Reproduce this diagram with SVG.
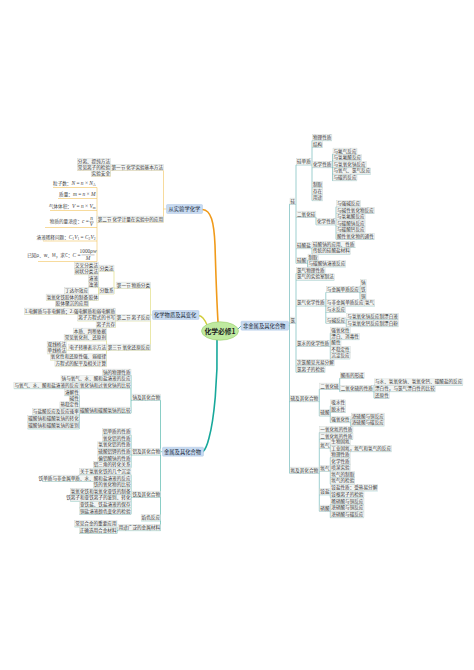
<svg xmlns="http://www.w3.org/2000/svg" width="474" height="670" viewBox="0 0 474 670">
<style>
.t{font-family:"Noto Sans CJK SC","Noto Sans",sans-serif;font-size:4.6px;fill:#333}
.e{text-anchor:end}
.b{fill:#f3f5f4;stroke:#c6cfcb;stroke-width:0.35}
.mb{fill:#c7daf1;stroke:#a5bfe0;stroke-width:0.4}
.mt{font-family:"Noto Sans CJK SC","Noto Sans",sans-serif;font-size:5.3px;fill:#1d2a3a}
.fm{font-family:"Liberation Serif",serif;font-size:5.4px;fill:#444}
.cn{font-family:"Noto Sans CJK SC","Noto Sans",sans-serif;font-size:4.6px}
.it{font-style:italic}
.sb{font-size:3.6px}
.k{fill:none;stroke-width:0.6}
.c1{stroke:#f2c35a}.c2{stroke:#dcd86e}.c3{stroke:#3aad9f}.c4{stroke:#5aaeb0}
</style>
<rect width="474" height="670" fill="#fff"/>
<g id="connectors">
<path class="k c1" d="M163.5,209H166.5M163.5,170.5V222.2M110.5,170.5H163.5M77.3,164.9H110.5M77.3,170.5H110.5M91.1,176.2H110.5M110.5,164.9V176.2M97,222.2H163.5M53,187.5H97M58,198.5H97M50,210.5H97M45,227.5H97M43,241H97M38,261.5H97M97,187.5V261.5"/>
<path class="k c2" d="M150.5,315H152.5M150.5,288.2V350.2M114,288.2H150.5M98.5,271.2H114M98.5,293.9H114M114,271.2V293.9M74.5,268.2H98.5M74.5,274.6H98.5M98.5,268.2V274.6M88.3,281.2H98.5M88.3,287.6H98.5M88.5,300.2H98.5M98.5,281.2V300.2M64.5,293.9H88.5M46.1,300.2H88.5M55.3,306.6H88.5M88.5,293.9V306.6M115.5,320.9H150.5M24.3,314.2H115.5M77.7,320.9H115.5M96.1,327.4H115.5M115.5,314.2V327.4M106.5,350.2H150.5M73.3,334.2H106.5M64.1,340.8H106.5M66.5,350.2H106.5M50.3,360H106.5M54.9,366.6H106.5M106.5,334.2V366.6M47.1,347.4H66.5M47.1,353.8H66.5M66.5,347.4V353.8"/>
<path class="k c3" d="M160.5,451.7H162.5M160.5,400.2V530.6M131,400.2H160.5M102.4,375.2H131M61,381.9H131M79.3,388.6H131M79.3,413.2H131M131,375.2V413.2M13.9,388.6H79.3M64.5,395.6H79.3M69.1,401.8H79.3M59.9,408H79.3M32.3,414.8H79.3M27.7,421.8H79.3M27.7,428.8H79.3M79.3,395.6V428.8M131,454.9H160.5M102.4,434.8H131M102.4,441.4H131M97.8,448H131M97.8,454.6H131M97.8,461.2H131M93.2,467.8H131M131,434.8V467.8M131,497.2H160.5M79.4,474.6H131M42.6,481.2H131M93.2,487.8H131M70.2,494.4H131M70.2,501H131M79.4,507.6H131M79.4,514.2H131M131,474.6V514.2M141.1,520.8H160.5M117,530.6H160.5M74.6,526.8H117M79.2,533.4H117M117,526.8V533.4"/>
<path class="k c4" d="M288.5,325.7H289.5M289.5,204.2V473.2M289.5,204.2H296M296,164.9V263.4M296,164.9H312M312,140.6V200.6M312,140.6H331.9M312,147.1H322.7M312,167.6H332.5M312,187.6H322.7M312,194.1H322.7M312,200.6H322.7M332.5,154.2V180.6M332.5,154.2H357M332.5,160.8H361.6M332.5,167.4H366.2M332.5,174H370.8M332.5,180.6H357M296,217.2H316M316,217.2V224.8M316,224.8H336M336,206.8V239.3M336,206.8H360.5M336,213.3H374.3M336,219.8H365.1M336,226.3H365.1M336,232.8H365.1M336,239.3H374.3M296,248.6H312M312,247.4V254M312,247.4H355.4M312,254H350.3M296,263.4H307.5M307.5,260.2V266.8M307.5,260.2H318.2M307.5,266.8H345.8M289.5,323.2H296M296,273.4V372.4M296,273.4H325.1M296,280H334.3M296,305.9H325.8M325.8,292.5V323.2M325.8,292.5H360M360,285.9V299.1M360,285.9H366.1M360,292.5H366.1M360,299.1H366.1M325.8,305.9H375M325.8,312.5H345.7M325.8,323.2H346.3M346.3,319.3V326.6M346.3,319.3H398.4M346.3,326.6H398.4M296,346.5H330.3M330.3,333.2V358.8M330.3,333.2H350.2M330.3,339.6H359.4M330.3,346H341M330.3,352.4H350.2M330.3,358.8H350.2M296,365.6H334.3M296,372.4H325.1M289.5,401.6H319.3M319.3,389.2V415.9M319.3,389.2H339.7M339.7,378.4V391.6M339.7,378.4H364.2M339.7,391.6H374M374,385V398.2M374,385H462.9M374,391.6H435.3M374,398.2H389.3M319.3,415.9H330.3M330.3,406V422.6M330.3,406H345.6M330.3,412.5H345.6M330.3,422.6H350.7M350.7,419.2V425.8M350.7,419.2H384.4M350.7,425.8H384.4M289.5,473.2H319.3M319.3,432.6V511.2M319.3,432.6H353M319.3,439.2H353M319.3,448.2H330.3M330.3,445V451.6M330.3,445H350.2M330.3,451.6H391.6M319.3,471.4H330.3M330.3,457.6V484M330.3,457.6H350.2M330.3,464.2H350.2M330.3,470.8H350.2M330.3,477.4H354.8M330.3,484H354.8M319.3,494.8H330.3M330.3,490.8V497.4M330.3,490.8H377.8M330.3,497.4H364M319.3,511.2H330.3M330.3,504.4V517.6M330.3,504.4H364M330.3,511H364M330.3,517.6H364"/>
<path fill="none" stroke="#f09a1a" stroke-width="1.6" stroke-linecap="round" d="M202.5,209.5C211,210 214,222 215,245C216,280 217,305 218,322"/>
<path fill="none" stroke="#d2cd3c" stroke-width="1.4" stroke-linecap="round" d="M198.5,315.5C203,316 205,320 207,325"/>
<path fill="none" stroke="#17a89b" stroke-width="1.6" stroke-linecap="round" d="M217,340C218,380 214,420 209,438C207,446 205,450 203,451.7"/>
<path fill="none" stroke="#4a9ea8" stroke-width="0.9" d="M238,329L241,326"/>
</g>
<g id="center"><ellipse cx="220" cy="331" rx="18.5" ry="9.2" fill="#bfeaa0" stroke="#98cd6a" stroke-width="0.6"/><text x="220" y="333.5" text-anchor="middle" font-family="Noto Sans CJK SC,Noto Sans,sans-serif" font-size="6.8" font-weight="bold" fill="#222">化学必修1</text></g>
<g id="m1"><rect class="mb" x="166.5" y="204.5" width="36" height="9" rx="1"/><text class="mt" x="168.5" y="211">从实验学化学</text></g>
<g id="m2"><rect class="mb" x="152.5" y="310.5" width="46.5" height="9" rx="1"/><text class="mt" x="154" y="317">化学物质及其变化</text></g>
<g id="m3"><rect class="mb" x="162.5" y="447.2" width="41" height="9" rx="1"/><text class="mt" x="164" y="453.7">金属及其化合物</text></g>
<g id="m4"><rect class="mb" x="241" y="321.2" width="47.5" height="9" rx="1"/><text class="mt" x="243" y="327.7">非金属及其化合物</text></g>
<g id="b1s1"><rect class="b" x="110.7" y="164.4" width="52.8" height="6.1"/><text class="t e" x="163" y="168.9">第一节 化学实验基本方法</text></g>
<g id="b1s1a"><rect class="b" x="77.3" y="158.8" width="33.2" height="6.1"/><text class="t e" x="110" y="163.3">分离、提纯方法</text></g>
<g id="b1s1b"><rect class="b" x="77.3" y="164.4" width="33.2" height="6.1"/><text class="t e" x="110" y="168.9">常见离子的检验</text></g>
<g id="b1s1c"><rect class="b" x="91.1" y="170.1" width="19.4" height="6.1"/><text class="t e" x="110" y="174.6">实验安全</text></g>
<g id="b1s2"><rect class="b" x="96.9" y="216.1" width="66.6" height="6.1"/><text class="t e" x="163" y="220.6">第二节 化学计量在实验中的应用</text></g>
<g id="f1"><text class="fm e" x="95.5" y="185.2"><tspan class="cn">粒子数：</tspan><tspan class="it">N</tspan> = <tspan class="it">n</tspan> × <tspan class="it">N</tspan><tspan class="sb" dy="1">A</tspan></text></g>
<g id="f2"><text class="fm e" x="95.5" y="196.2"><tspan class="cn">质量：</tspan><tspan class="it">m</tspan> = <tspan class="it">n</tspan> × <tspan class="it">M</tspan></text></g>
<g id="f3"><text class="fm e" x="95.5" y="208.2"><tspan class="cn">气体体积：</tspan><tspan class="it">V</tspan> = <tspan class="it">n</tspan> × <tspan class="it">V</tspan><tspan class="sb" dy="1">m</tspan></text></g>
<g id="f4"><text class="fm e" x="88.8" y="223.4"><tspan class="cn">物质的量浓度：</tspan><tspan class="it">c</tspan> =</text><text class="fm it" x="91.5" y="219.8" text-anchor="middle">n</text><path d="M89.3,221.4H93.7" stroke="#444" stroke-width="0.35"/><text class="fm it" x="91.5" y="226" text-anchor="middle">V</text></g>
<g id="f5"><text class="fm e" x="95.5" y="239.2"><tspan class="cn">溶液稀释问题：</tspan><tspan class="it">C</tspan><tspan class="sb" dy="1">1</tspan><tspan class="it" dy="-1">V</tspan><tspan class="sb" dy="1">1</tspan><tspan dy="-1"> = </tspan><tspan class="it">C</tspan><tspan class="sb" dy="1">2</tspan><tspan class="it" dy="-1">V</tspan><tspan class="sb" dy="1">2</tspan></text></g>
<g id="f6"><text class="fm e" x="80.5" y="257"><tspan class="cn">已知ρ、w、M，求C：</tspan><tspan class="it">C</tspan> =</text><text class="fm" x="88" y="253.4" text-anchor="middle">1000<tspan class="it">ρw</tspan></text><path d="M81.5,254.9H94.5" stroke="#444" stroke-width="0.35"/><text class="fm it" x="88" y="259.8" text-anchor="middle">M</text></g>
<g id="b2s1"><rect class="b" x="116.1" y="282.1" width="34.4" height="6.1"/><text class="t e" x="150" y="286.6">第一节 物质分类</text></g>
<g id="b2s1a"><rect class="b" x="99.2" y="265.1" width="14.8" height="6.1"/><text class="t e" x="113.5" y="269.6">分类法</text></g>
<g id="b2s1a1"><rect class="b" x="74.5" y="262.1" width="24" height="6.1"/><text class="t e" x="98" y="266.6">交叉分类法</text></g>
<g id="b2s1a2"><rect class="b" x="74.5" y="268.5" width="24" height="6.1"/><text class="t e" x="98" y="273">树状分类法</text></g>
<g id="b2s1b"><rect class="b" x="99.2" y="287.8" width="14.8" height="6.1"/><text class="t e" x="113.5" y="292.3">分散系</text></g>
<g id="b2s1b1"><rect class="b" x="88.3" y="275.1" width="10.2" height="6.1"/><text class="t e" x="98" y="279.6">溶液</text></g>
<g id="b2s1b2"><rect class="b" x="88.3" y="281.5" width="10.2" height="6.1"/><text class="t e" x="98" y="286">浊液</text></g>
<g id="b2s1b3"><rect class="b" x="88.3" y="294.1" width="10.2" height="6.1"/><text class="t e" x="98" y="298.6">胶体</text></g>
<g id="b2s1b3a"><rect class="b" x="64.5" y="287.8" width="24" height="6.1"/><text class="t e" x="88" y="292.3">丁达尔效应</text></g>
<g id="b2s1b3b"><rect class="b" x="46.1" y="294.1" width="42.4" height="6.1"/><text class="t e" x="88" y="298.6">氢氧化铁胶体的制备</text></g>
<g id="b2s1b3c"><rect class="b" x="55.3" y="300.5" width="33.2" height="6.1"/><text class="t e" x="88" y="305">胶体聚沉的应用</text></g>
<g id="b2s2"><rect class="b" x="116.1" y="314.8" width="34.4" height="6.1"/><text class="t e" x="150" y="319.3">第二节 离子反应</text></g>
<g id="b2s2a"><rect class="b" x="24.3" y="308.1" width="91.2" height="6.1"/><text class="t e" x="115" y="312.6">1.电解质与非电解质；2.强电解质和弱电解质</text></g>
<g id="b2s2b"><rect class="b" x="77.7" y="314.8" width="37.8" height="6.1"/><text class="t e" x="115" y="319.3">离子方程式的书写</text></g>
<g id="b2s2c"><rect class="b" x="96.1" y="321.3" width="19.4" height="6.1"/><text class="t e" x="115" y="325.8">离子共存</text></g>
<g id="b2s3"><rect class="b" x="106.9" y="344.1" width="43.6" height="6.1"/><text class="t e" x="150" y="348.6">第三节 氧化还原反应</text></g>
<g id="b2s3a"><rect class="b" x="73.3" y="328.1" width="33.2" height="6.1"/><text class="t e" x="106" y="332.6">本质、判断依据</text></g>
<g id="b2s3b"><rect class="b" x="64.1" y="334.7" width="42.4" height="6.1"/><text class="t e" x="106" y="339.2">常见氧化剂、还原剂</text></g>
<g id="b2s3c"><rect class="b" x="68.7" y="344.1" width="37.8" height="6.1"/><text class="t e" x="106" y="348.6">电子转移表示方法</text></g>
<g id="b2s3c1"><rect class="b" x="47.1" y="341.3" width="19.4" height="6.1"/><text class="t e" x="66" y="345.8">双线桥法</text></g>
<g id="b2s3c2"><rect class="b" x="47.1" y="347.7" width="19.4" height="6.1"/><text class="t e" x="66" y="352.2">单线桥法</text></g>
<g id="b2s3d"><rect class="b" x="50.3" y="353.9" width="56.2" height="6.1"/><text class="t e" x="106" y="358.4">氧化性和还原性强、弱规律</text></g>
<g id="b2s3e"><rect class="b" x="54.9" y="360.5" width="51.6" height="6.1"/><text class="t e" x="106" y="365">方程式的配平及相关计算</text></g>
<g id="na"><rect class="b" x="131.9" y="394.1" width="28.6" height="6.1"/><text class="t e" x="160" y="398.6">钠及其化合物</text></g>
<g id="na1"><rect class="b" x="102.4" y="369.1" width="28.6" height="6.1"/><text class="t e" x="130.5" y="373.6">钠的物理性质</text></g>
<g id="na2"><rect class="b" x="61" y="375.8" width="70" height="6.1"/><text class="t e" x="130.5" y="380.3">钠与氧气、水、酸和盐溶液的反应</text></g>
<g id="na3"><rect class="b" x="79.4" y="382.5" width="51.6" height="6.1"/><text class="t e" x="130.5" y="387">氧化钠和过氧化钠的比较</text></g>
<g id="na3a"><rect class="b" x="13.9" y="382.5" width="65.4" height="6.1"/><text class="t e" x="78.8" y="387">与氧气、水、酸和盐溶液的反应</text></g>
<g id="na4"><rect class="b" x="79.4" y="407.1" width="51.6" height="6.1"/><text class="t e" x="130.5" y="411.6">碳酸钠和碳酸氢钠的比较</text></g>
<g id="na4a"><rect class="b" x="64.5" y="389.5" width="14.8" height="6.1"/><text class="t e" x="78.8" y="394">溶解性</text></g>
<g id="na4b"><rect class="b" x="69.1" y="395.7" width="10.2" height="6.1"/><text class="t e" x="78.8" y="400.2">碱性</text></g>
<g id="na4c"><rect class="b" x="59.9" y="401.9" width="19.4" height="6.1"/><text class="t e" x="78.8" y="406.4">热稳定性</text></g>
<g id="na4d"><rect class="b" x="32.3" y="408.7" width="47" height="6.1"/><text class="t e" x="78.8" y="413.2">与盐酸反应及反应速率</text></g>
<g id="na4e"><rect class="b" x="27.7" y="415.7" width="51.6" height="6.1"/><text class="t e" x="78.8" y="420.2">碳酸钠和碳酸氢钠的转化</text></g>
<g id="na4f"><rect class="b" x="27.7" y="422.7" width="51.6" height="6.1"/><text class="t e" x="78.8" y="427.2">碳酸钠和碳酸氢钠的鉴别</text></g>
<g id="al"><rect class="b" x="131.9" y="448.8" width="28.6" height="6.1"/><text class="t e" x="160" y="453.3">铝及其化合物</text></g>
<g id="al1"><rect class="b" x="102.4" y="428.7" width="28.6" height="6.1"/><text class="t e" x="130.5" y="433.2">铝单质的性质</text></g>
<g id="al2"><rect class="b" x="102.4" y="435.3" width="28.6" height="6.1"/><text class="t e" x="130.5" y="439.8">氧化铝的性质</text></g>
<g id="al3"><rect class="b" x="97.8" y="441.9" width="33.2" height="6.1"/><text class="t e" x="130.5" y="446.4">氢氧化铝的性质</text></g>
<g id="al4"><rect class="b" x="97.8" y="448.5" width="33.2" height="6.1"/><text class="t e" x="130.5" y="453">硫酸铝钾的性质</text></g>
<g id="al5"><rect class="b" x="97.8" y="455.1" width="33.2" height="6.1"/><text class="t e" x="130.5" y="459.6">偏铝酸钠的性质</text></g>
<g id="al6"><rect class="b" x="93.2" y="461.7" width="37.8" height="6.1"/><text class="t e" x="130.5" y="466.2">铝三角的转化关系</text></g>
<g id="fe"><rect class="b" x="131.9" y="491.1" width="28.6" height="6.1"/><text class="t e" x="160" y="495.6">铁及其化合物</text></g>
<g id="fe1"><rect class="b" x="79.4" y="468.5" width="51.6" height="6.1"/><text class="t e" x="130.5" y="473">关于氢氧化铁的几个沉淀</text></g>
<g id="fe2"><rect class="b" x="42.6" y="475.1" width="88.4" height="6.1"/><text class="t e" x="130.5" y="479.6">铁单质与非金属单质、水、酸和盐溶液的反应</text></g>
<g id="fe3"><rect class="b" x="93.2" y="481.7" width="37.8" height="6.1"/><text class="t e" x="130.5" y="486.2">铁的氧化物的比较</text></g>
<g id="fe4"><rect class="b" x="70.2" y="488.3" width="60.8" height="6.1"/><text class="t e" x="130.5" y="492.8">氢氧化铁和氢氧化亚铁的制备</text></g>
<g id="fe5"><rect class="b" x="70.2" y="494.9" width="60.8" height="6.1"/><text class="t e" x="130.5" y="499.4">铁离子和亚铁离子的鉴别、转化</text></g>
<g id="fe6"><rect class="b" x="79.4" y="501.5" width="51.6" height="6.1"/><text class="t e" x="130.5" y="506">亚铁盐、铁盐溶液的保存</text></g>
<g id="fe7"><rect class="b" x="79.4" y="508.1" width="51.6" height="6.1"/><text class="t e" x="130.5" y="512.6">铜盐溶液颜色变化的检验</text></g>
<g id="flame"><rect class="b" x="141.1" y="514.7" width="19.4" height="6.1"/><text class="t e" x="160" y="519.2">焰色反应</text></g>
<g id="mat"><rect class="b" x="118.1" y="524.5" width="42.4" height="6.1"/><text class="t e" x="160" y="529">用途广泛的金属材料</text></g>
<g id="mat1"><rect class="b" x="74.6" y="520.7" width="42.4" height="6.1"/><text class="t e" x="116.5" y="525.2">常见合金的重要应用</text></g>
<g id="mat2"><rect class="b" x="79.2" y="527.3" width="37.8" height="6.1"/><text class="t e" x="116.5" y="531.8">正确选用合金材料</text></g>
<g id="si"><rect class="b" x="290" y="198.1" width="5.6" height="6.1"/><text class="t" x="290.5" y="202.6">硅</text></g>
<g id="si1"><rect class="b" x="296.5" y="158.8" width="14.8" height="6.1"/><text class="t" x="297" y="163.3">硅单质</text></g>
<g id="si1a"><rect class="b" x="312.5" y="134.5" width="19.4" height="6.1"/><text class="t" x="313" y="139">物理性质</text></g>
<g id="si1b"><rect class="b" x="312.5" y="141" width="10.2" height="6.1"/><text class="t" x="313" y="145.5">结构</text></g>
<g id="si1c"><rect class="b" x="312.5" y="161.5" width="19.4" height="6.1"/><text class="t" x="313" y="166">化学性质</text></g>
<g id="si1c1"><rect class="b" x="333" y="148.1" width="24" height="6.1"/><text class="t" x="333.5" y="152.6">与氟气反应</text></g>
<g id="si1c2"><rect class="b" x="333" y="154.7" width="28.6" height="6.1"/><text class="t" x="333.5" y="159.2">与氢氟酸反应</text></g>
<g id="si1c3"><rect class="b" x="333" y="161.3" width="33.2" height="6.1"/><text class="t" x="333.5" y="165.8">与氢氧化钠反应</text></g>
<g id="si1c4"><rect class="b" x="333" y="167.9" width="37.8" height="6.1"/><text class="t" x="333.5" y="172.4">与氧气、氯气反应</text></g>
<g id="si1c5"><rect class="b" x="333" y="174.5" width="24" height="6.1"/><text class="t" x="333.5" y="179">与碳的反应</text></g>
<g id="si1d"><rect class="b" x="312.5" y="181.5" width="10.2" height="6.1"/><text class="t" x="313" y="186">制取</text></g>
<g id="si1e"><rect class="b" x="312.5" y="188" width="10.2" height="6.1"/><text class="t" x="313" y="192.5">存在</text></g>
<g id="si1f"><rect class="b" x="312.5" y="194.5" width="10.2" height="6.1"/><text class="t" x="313" y="199">用途</text></g>
<g id="si2"><rect class="b" x="296.5" y="211.1" width="19.4" height="6.1"/><text class="t" x="297" y="215.6">二氧化硅</text></g>
<g id="si2a"><rect class="b" x="316.5" y="218.7" width="19.4" height="6.1"/><text class="t" x="317" y="223.2">化学性质</text></g>
<g id="si2a1"><rect class="b" x="336.5" y="200.7" width="24" height="6.1"/><text class="t" x="337" y="205.2">与强碱反应</text></g>
<g id="si2a2"><rect class="b" x="336.5" y="207.2" width="37.8" height="6.1"/><text class="t" x="337" y="211.7">与碱性氧化物反应</text></g>
<g id="si2a3"><rect class="b" x="336.5" y="213.7" width="28.6" height="6.1"/><text class="t" x="337" y="218.2">与氢氟酸反应</text></g>
<g id="si2a4"><rect class="b" x="336.5" y="220.2" width="28.6" height="6.1"/><text class="t" x="337" y="224.7">与碳酸钠反应</text></g>
<g id="si2a5"><rect class="b" x="336.5" y="226.7" width="28.6" height="6.1"/><text class="t" x="337" y="231.2">与碳酸钙反应</text></g>
<g id="si2a6"><rect class="b" x="336.5" y="233.2" width="37.8" height="6.1"/><text class="t" x="337" y="237.7">酸性氧化物的通性</text></g>
<g id="si3"><rect class="b" x="296.5" y="242.5" width="14.8" height="6.1"/><text class="t" x="297" y="247">硅酸盐</text></g>
<g id="si3a"><rect class="b" x="312.5" y="241.3" width="42.4" height="6.1"/><text class="t" x="313" y="245.8">硅酸钠的应用、性质</text></g>
<g id="si3b"><rect class="b" x="312.5" y="247.9" width="37.8" height="6.1"/><text class="t" x="313" y="252.4">传统的硅酸盐材料</text></g>
<g id="si4"><rect class="b" x="296.5" y="257.3" width="10.2" height="6.1"/><text class="t" x="297" y="261.8">硅酸</text></g>
<g id="si4a"><rect class="b" x="308" y="254.1" width="10.2" height="6.1"/><text class="t" x="308.5" y="258.6">制取</text></g>
<g id="si4b"><rect class="b" x="308" y="260.7" width="37.8" height="6.1"/><text class="t" x="308.5" y="265.2">与碳酸钠溶液反应</text></g>
<g id="cl"><rect class="b" x="290" y="317.1" width="5.6" height="6.1"/><text class="t" x="290.5" y="321.6">氯</text></g>
<g id="cl1"><rect class="b" x="296.5" y="267.3" width="28.6" height="6.1"/><text class="t" x="297" y="271.8">氯气物理性质</text></g>
<g id="cl2"><rect class="b" x="296.5" y="273.9" width="37.8" height="6.1"/><text class="t" x="297" y="278.4">氯气的实验室制法</text></g>
<g id="cl3"><rect class="b" x="296.5" y="299.8" width="28.6" height="6.1"/><text class="t" x="297" y="304.3">氯气化学性质</text></g>
<g id="cl3a"><rect class="b" x="326.3" y="286.4" width="33.2" height="6.1"/><text class="t" x="326.8" y="290.9">与金属单质反应</text></g>
<g id="cl3a1"><rect class="b" x="360.5" y="279.8" width="5.6" height="6.1"/><text class="t" x="361" y="284.3">钠</text></g>
<g id="cl3a2"><rect class="b" x="360.5" y="286.4" width="5.6" height="6.1"/><text class="t" x="361" y="290.9">铁</text></g>
<g id="cl3a3"><rect class="b" x="360.5" y="293" width="5.6" height="6.1"/><text class="t" x="361" y="297.5">铜</text></g>
<g id="cl3b"><rect class="b" x="326.3" y="299.8" width="37.8" height="6.1"/><text class="t" x="326.8" y="304.3">与非金属单质反应</text></g>
<g id="cl3b1"><rect class="b" x="364.5" y="299.8" width="10.2" height="6.1"/><text class="t" x="365" y="304.3">氢气</text></g>
<g id="cl3c"><rect class="b" x="326.3" y="306.4" width="19.4" height="6.1"/><text class="t" x="326.8" y="310.9">与水反应</text></g>
<g id="cl3d"><rect class="b" x="326.3" y="317.1" width="19.4" height="6.1"/><text class="t" x="326.8" y="321.6">与碱反应</text></g>
<g id="cl3d1"><rect class="b" x="346.8" y="313.2" width="51.6" height="6.1"/><text class="t" x="347.3" y="317.7">与氢氧化钠反应制漂白液</text></g>
<g id="cl3d2"><rect class="b" x="346.8" y="320.5" width="51.6" height="6.1"/><text class="t" x="347.3" y="325">与氢氧化钙反应制漂白粉</text></g>
<g id="cl4"><rect class="b" x="296.5" y="340.4" width="33.2" height="6.1"/><text class="t" x="297" y="344.9">氯水的化学性质</text></g>
<g id="cl4a"><rect class="b" x="330.8" y="327.1" width="19.4" height="6.1"/><text class="t" x="331.3" y="331.6">强氧化性</text></g>
<g id="cl4b"><rect class="b" x="330.8" y="333.5" width="28.6" height="6.1"/><text class="t" x="331.3" y="338">漂白、消毒性</text></g>
<g id="cl4c"><rect class="b" x="330.8" y="339.9" width="10.2" height="6.1"/><text class="t" x="331.3" y="344.4">酸性</text></g>
<g id="cl4d"><rect class="b" x="330.8" y="346.3" width="19.4" height="6.1"/><text class="t" x="331.3" y="350.8">不稳定性</text></g>
<g id="cl4e"><rect class="b" x="330.8" y="352.7" width="19.4" height="6.1"/><text class="t" x="331.3" y="357.2">沉淀反应</text></g>
<g id="cl5"><rect class="b" x="296.5" y="359.5" width="37.8" height="6.1"/><text class="t" x="297" y="364">次氯酸见光易分解</text></g>
<g id="cl6"><rect class="b" x="296.5" y="366.3" width="28.6" height="6.1"/><text class="t" x="297" y="370.8">氯离子的检验</text></g>
<g id="s"><rect class="b" x="290" y="395.5" width="28.6" height="6.1"/><text class="t" x="290.5" y="400">硫及其化合物</text></g>
<g id="s1"><rect class="b" x="319.8" y="383.1" width="19.4" height="6.1"/><text class="t" x="320.3" y="387.6">二氧化硫</text></g>
<g id="s1a"><rect class="b" x="340.2" y="372.3" width="24" height="6.1"/><text class="t" x="340.7" y="376.8">酸雨的形成</text></g>
<g id="s1b"><rect class="b" x="340.2" y="385.5" width="33.2" height="6.1"/><text class="t" x="340.7" y="390">二氧化硫的性质</text></g>
<g id="s1b1"><rect class="b" x="374.5" y="378.9" width="88.4" height="6.1"/><text class="t" x="375" y="383.4">与水、氢氧化钠、氢氧化钙、碳酸盐的反应</text></g>
<g id="s1b2"><rect class="b" x="374.5" y="385.5" width="60.8" height="6.1"/><text class="t" x="375" y="390">漂白性，与氯气漂白性的比较</text></g>
<g id="s1b3"><rect class="b" x="374.5" y="392.1" width="14.8" height="6.1"/><text class="t" x="375" y="396.6">还原性</text></g>
<g id="s2"><rect class="b" x="319.8" y="409.8" width="10.2" height="6.1"/><text class="t" x="320.3" y="414.3">硫酸</text></g>
<g id="s2a"><rect class="b" x="330.8" y="399.9" width="14.8" height="6.1"/><text class="t" x="331.3" y="404.4">吸水性</text></g>
<g id="s2b"><rect class="b" x="330.8" y="406.4" width="14.8" height="6.1"/><text class="t" x="331.3" y="410.9">脱水性</text></g>
<g id="s2c"><rect class="b" x="330.8" y="416.5" width="19.4" height="6.1"/><text class="t" x="331.3" y="421">强氧化性</text></g>
<g id="s2c1"><rect class="b" x="351.2" y="413.1" width="33.2" height="6.1"/><text class="t" x="351.7" y="417.6">浓硫酸与铜反应</text></g>
<g id="s2c2"><rect class="b" x="351.2" y="419.7" width="33.2" height="6.1"/><text class="t" x="351.7" y="424.2">浓硫酸与碳反应</text></g>
<g id="n"><rect class="b" x="290" y="467.1" width="28.6" height="6.1"/><text class="t" x="290.5" y="471.6">氮及其化合物</text></g>
<g id="n1"><rect class="b" x="319.8" y="426.5" width="33.2" height="6.1"/><text class="t" x="320.3" y="431">一氧化氮的性质</text></g>
<g id="n2"><rect class="b" x="319.8" y="433.1" width="33.2" height="6.1"/><text class="t" x="320.3" y="437.6">二氧化氮的性质</text></g>
<g id="n3"><rect class="b" x="319.8" y="442.1" width="10.2" height="6.1"/><text class="t" x="320.3" y="446.6">氮气</text></g>
<g id="n3a"><rect class="b" x="330.8" y="438.9" width="19.4" height="6.1"/><text class="t" x="331.3" y="443.4">生物固氮</text></g>
<g id="n3b"><rect class="b" x="330.8" y="445.5" width="60.8" height="6.1"/><text class="t" x="331.3" y="450">工业固氮，氮气和氢气的反应</text></g>
<g id="n4"><rect class="b" x="319.8" y="465.3" width="10.2" height="6.1"/><text class="t" x="320.3" y="469.8">氨气</text></g>
<g id="n4a"><rect class="b" x="330.8" y="451.5" width="19.4" height="6.1"/><text class="t" x="331.3" y="456">物理性质</text></g>
<g id="n4b"><rect class="b" x="330.8" y="458.1" width="19.4" height="6.1"/><text class="t" x="331.3" y="462.6">化学性质</text></g>
<g id="n4c"><rect class="b" x="330.8" y="464.7" width="19.4" height="6.1"/><text class="t" x="331.3" y="469.2">喷泉实验</text></g>
<g id="n4d"><rect class="b" x="330.8" y="471.3" width="24" height="6.1"/><text class="t" x="331.3" y="475.8">氨气的制取</text></g>
<g id="n4e"><rect class="b" x="330.8" y="477.9" width="24" height="6.1"/><text class="t" x="331.3" y="482.4">氨气的检验</text></g>
<g id="n5"><rect class="b" x="319.8" y="488.7" width="10.2" height="6.1"/><text class="t" x="320.3" y="493.2">铵盐</text></g>
<g id="n5a"><rect class="b" x="330.8" y="484.7" width="47" height="6.1"/><text class="t" x="331.3" y="489.2">铵盐性质：受热易分解</text></g>
<g id="n5b"><rect class="b" x="330.8" y="491.3" width="33.2" height="6.1"/><text class="t" x="331.3" y="495.8">铵根离子的检验</text></g>
<g id="n6"><rect class="b" x="319.8" y="505.1" width="10.2" height="6.1"/><text class="t" x="320.3" y="509.6">硝酸</text></g>
<g id="n6a"><rect class="b" x="330.8" y="498.3" width="33.2" height="6.1"/><text class="t" x="331.3" y="502.8">稀硝酸与铜反应</text></g>
<g id="n6b"><rect class="b" x="330.8" y="504.9" width="33.2" height="6.1"/><text class="t" x="331.3" y="509.4">浓硝酸与铜反应</text></g>
<g id="n6c"><rect class="b" x="330.8" y="511.5" width="33.2" height="6.1"/><text class="t" x="331.3" y="516">浓硝酸与碳反应</text></g>
</svg>
